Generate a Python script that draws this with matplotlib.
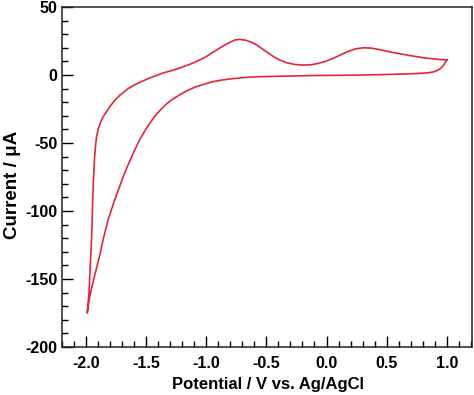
import matplotlib
matplotlib.use("Agg")
import matplotlib.pyplot as plt
from matplotlib.ticker import MultipleLocator

plt.rcParams['font.family'] = ['Liberation Sans', 'DejaVu Sans']
plt.rcParams['font.weight'] = 'bold'

# Cathodic sweep (1.0 V -> -2.0 V)
v_fwd = [1.0, 0.99, 0.975, 0.96, 0.94, 0.917, 0.89, 0.85, 0.78, 0.7, 0.55, 0.4, 0.28, 0.1,
         -0.1, -0.28, -0.45, -0.54, -0.65, -0.72, -0.8, -0.87, -0.95, -1.02, -1.095, -1.16,
         -1.22, -1.29, -1.34, -1.39, -1.43, -1.47, -1.51, -1.55, -1.6, -1.65, -1.69, -1.725,
         -1.77, -1.815, -1.855, -1.89, -1.93, -1.97, -1.99]
i_fwd = [11.0, 9.5, 7.5, 5.8, 4.3, 3.2, 2.3, 1.7, 1.2, 0.9, 0.5, 0.2, 0.0, -0.2,
         -0.4, -0.7, -1.0, -1.2, -1.6, -2.2, -2.9, -3.7, -5.0, -6.8, -9.0, -11.5,
         -14.5, -18.4, -22.0, -26.5, -30.5, -35.5, -41.0, -47.0, -56.0, -66.0, -74.5, -83.0,
         -94.0, -106.0, -120.0, -134.0, -148.0, -163.0, -175.0]

# Anodic sweep (-2.0 V -> 1.0 V)
v_rev = [-1.99, -1.975, -1.965, -1.958, -1.95, -1.945, -1.937, -1.93, -1.924, -1.915,
         -1.9, -1.88, -1.86, -1.83, -1.8, -1.76, -1.72, -1.65, -1.58, -1.53, -1.48, -1.42,
         -1.36, -1.29, -1.22, -1.15, -1.08, -1.01, -0.94, -0.87, -0.8, -0.76, -0.72, -0.67,
         -0.62, -0.58, -0.54, -0.49, -0.44, -0.39, -0.33, -0.26, -0.2, -0.13, -0.07, -0.01,
         0.05, 0.11, 0.17, 0.24, 0.305, 0.37, 0.45, 0.555, 0.68, 0.805, 0.9, 1.0]
i_rev = [-175.0, -160.0, -140.0, -128.0, -110.0, -92.0, -75.0, -62.0, -55.0, -47.0,
         -40.0, -35.0, -31.0, -27.0, -23.0, -18.5, -15.0, -10.0, -6.5, -4.5, -2.5, -0.5,
         1.5, 3.2, 5.2, 7.4, 10.0, 13.0, 17.0, 20.8, 24.2, 25.8, 26.2, 25.5,
         24.0, 22.0, 19.6, 16.5, 13.5, 11.0, 9.0, 7.7, 7.3, 7.5, 8.5, 10.0,
         12.0, 14.5, 17.0, 19.2, 20.0, 19.8, 18.5, 16.5, 14.5, 12.7, 11.8, 11.0]

potential = v_fwd + v_rev[1:]
current = i_fwd + i_rev[1:]

x_ticks = [-2.0, -1.5, -1.0, -0.5, 0.0, 0.5, 1.0]
x_labels = ['-2.0', '-1.5', '-1.0', '-0.5', '0.0', '0.5', '1.0']
y_ticks = [-200, -150, -100, -50, 0, 50]
y_labels = ['-200', '-150', '-100', '-50', '0', '50']

fig = plt.figure(figsize=(4.74, 3.95), dpi=100)
ax = fig.add_axes([62/474, 1 - 347/395, (472-62)/474, (347-7)/395])
ax.plot(potential, current, color='#e8243c', lw=1.2, solid_joinstyle='round')

ax.set_xlim(-2.2, 1.21)
ax.set_ylim(-200, 50)
ax.xaxis.set_minor_locator(MultipleLocator(0.1))
ax.yaxis.set_minor_locator(MultipleLocator(10))
ax.set_xticks(x_ticks)
ax.set_xticklabels(x_labels)
ax.set_yticks(y_ticks)
ax.set_yticklabels(y_labels)

ax.tick_params(which='both', direction='in', top=False, right=False, labelsize=11.5, width=1)
ax.tick_params(axis='x', which='major', length=8, pad=6.5)
ax.tick_params(axis='y', which='major', length=8, pad=3.4)
ax.tick_params(which='minor', length=4)
for lab in ax.get_xticklabels() + ax.get_yticklabels():
    lab.set_fontweight('bold')
for s in ax.spines.values():
    s.set_linewidth(1.1)
    s.set_color('#222222')

fig.text(268.5/474, 1 - 385/395, 'Potential / V vs. Ag/AgCl', fontsize=12,
         fontweight='bold', ha='center', va='center')
fig.text(12.5/474, 1 - 185/395, 'Current / μA', fontsize=13.5,
         fontweight='bold', ha='center', va='center', rotation=90)

fig.savefig('out.png', dpi=100)
